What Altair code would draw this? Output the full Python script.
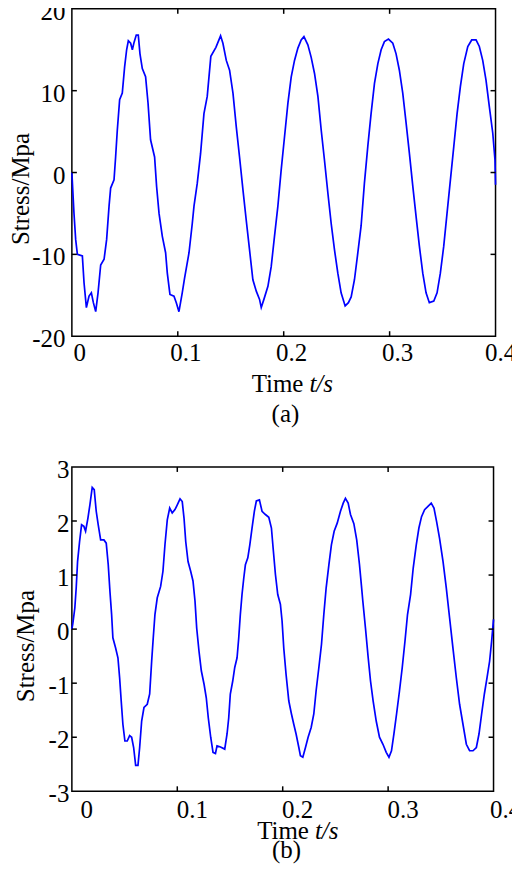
import altair as alt
import pandas as pd

# ---------------- data ----------------
t_a = [0.0, 0.002, 0.0036, 0.0052, 0.0099, 0.0115, 0.0137, 0.0162, 0.0184, 0.0203,
       0.0225, 0.0247, 0.0272, 0.0304, 0.0328, 0.0351, 0.0366, 0.0398, 0.0413, 0.0429,
       0.0451, 0.0476, 0.0498, 0.0517, 0.0533, 0.0555, 0.0571, 0.0587, 0.0608, 0.0627,
       0.0643, 0.0665, 0.0696, 0.0719, 0.0743, 0.0781, 0.08, 0.0823, 0.0854, 0.0885,
       0.0901, 0.0926, 0.0964, 0.0986, 0.1011, 0.1042, 0.1064, 0.1106, 0.1137, 0.1153,
       0.1184, 0.1215, 0.1247, 0.1278, 0.1312, 0.136, 0.1404, 0.1426, 0.1458, 0.1489,
       0.1521, 0.1552, 0.1583, 0.1615, 0.1646, 0.1677, 0.1709, 0.1741, 0.1772, 0.1788,
       0.1813, 0.1851, 0.1882, 0.1913, 0.1945, 0.1976, 0.2008, 0.204, 0.2071, 0.2102,
       0.2134, 0.2165, 0.2191, 0.2228, 0.2259, 0.2291, 0.2323, 0.2354, 0.2385, 0.2417,
       0.2448, 0.2479, 0.2511, 0.2542, 0.258, 0.2611, 0.2637, 0.2668, 0.27, 0.2731,
       0.2762, 0.2794, 0.2825, 0.2857, 0.2889, 0.292, 0.2951, 0.2989, 0.303, 0.3061,
       0.3092, 0.3124, 0.3156, 0.3187, 0.3219, 0.325, 0.3281, 0.3313, 0.3344, 0.3375,
       0.3417, 0.3448, 0.3479, 0.3511, 0.3542, 0.3574, 0.3606, 0.3637, 0.3668, 0.37,
       0.3738, 0.3775, 0.3816, 0.3847, 0.3879, 0.391, 0.3942, 0.3974, 0.3995, 0.4]
s_a = [0.0, -5.0, -8.2, -10.0, -10.2, -13.5, -16.5, -15.1, -14.7, -15.9,
       -17.0, -14.7, -11.3, -10.6, -8.2, -4.1, -1.9, -0.9, 1.9, 5.2,
       8.9, 9.7, 12.9, 15.0, 16.1, 15.8, 15.0, 15.9, 16.8, 16.8,
       14.5, 12.7, 11.7, 8.5, 4.0, 1.9, -1.7, -5.0, -7.8, -9.8,
       -12.3, -14.9, -15.1, -15.9, -17.0, -14.7, -12.9, -9.8, -6.2, -4.1,
       -1.3, 2.3, 7.2, 9.3, 14.2, 15.3, 16.7, 15.8, 13.7, 12.5,
       9.7, 5.6, 1.9, -2.1, -5.8, -9.4, -13.1, -14.5, -15.5, -16.5,
       -15.5, -13.9, -11.5, -7.8, -4.1, 0.3, 4.4, 8.5, 11.7, 13.7,
       15.2, 16.2, 16.6, 15.6, 14.1, 12.1, 9.3, 5.2, 1.5, -2.5,
       -6.2, -9.4, -12.3, -14.7, -16.3, -15.9, -15.2, -13.1, -9.8, -6.5,
       -1.3, 3.2, 7.2, 10.9, 13.3, 15.0, 16.0, 16.3, 15.8, 14.5,
       12.5, 9.7, 6.0, 2.3, -1.7, -5.4, -9.0, -12.3, -14.7, -15.9,
       -15.7, -14.7, -12.3, -9.0, -5.0, -0.9, 3.2, 7.2, 10.5, 13.3,
       15.4, 16.2, 16.2, 15.4, 13.7, 11.3, 8.0, 4.8, 1.5, -1.5]

t_b = [0.0, 0.0009, 0.0028, 0.0041, 0.0054, 0.0073, 0.0092, 0.0114, 0.013, 0.0152,
       0.0171, 0.0193, 0.0212, 0.0231, 0.025, 0.0273, 0.0304, 0.0326, 0.0345, 0.0361,
       0.0377, 0.0389, 0.0415, 0.0437, 0.0453, 0.0468, 0.0484, 0.0503, 0.0525, 0.0548,
       0.0567, 0.0586, 0.0605, 0.0627, 0.0643, 0.0662, 0.0684, 0.0715, 0.0738, 0.0757,
       0.0772, 0.0788, 0.081, 0.0842, 0.0864, 0.0883, 0.0905, 0.0928, 0.0952, 0.0978,
       0.1, 0.1026, 0.1047, 0.1064, 0.108, 0.1102, 0.1127, 0.1149, 0.1168, 0.1184,
       0.1206, 0.1228, 0.1254, 0.1275, 0.1294, 0.1317, 0.1339, 0.1362, 0.1377, 0.141,
       0.145, 0.1472, 0.1488, 0.1503, 0.1526, 0.1545, 0.1567, 0.1583, 0.1598, 0.1614,
       0.1631, 0.1646, 0.1669, 0.1688, 0.1709, 0.1731, 0.175, 0.1779, 0.1804, 0.1836,
       0.1868, 0.1893, 0.1909, 0.1931, 0.1953, 0.1978, 0.1994, 0.201, 0.2032, 0.2058,
       0.2083, 0.2105, 0.2127, 0.2153, 0.2168, 0.2191, 0.2216, 0.2241, 0.227, 0.2295,
       0.2317, 0.2343, 0.2368, 0.239, 0.2412, 0.2438, 0.2462, 0.2488, 0.2517, 0.2548,
       0.2574, 0.2595, 0.2621, 0.2643, 0.2675, 0.2702, 0.2728, 0.2747, 0.276, 0.2785,
       0.2811, 0.2833, 0.2858, 0.2887, 0.2918, 0.2951, 0.2982, 0.3008, 0.3032, 0.3055,
       0.308, 0.3108, 0.3134, 0.316, 0.3184, 0.3213, 0.3238, 0.3267, 0.3292, 0.3317,
       0.3346, 0.3378, 0.3409, 0.3435, 0.346, 0.3488, 0.3521, 0.3552, 0.3583, 0.3615,
       0.3647, 0.3678, 0.371, 0.3742, 0.3773, 0.3805, 0.3837, 0.3862, 0.3887, 0.3913,
       0.3938, 0.3963, 0.3982, 0.4]
s_b = [0.0, 0.1, 0.39, 0.76, 1.25, 1.62, 1.93, 1.90, 1.81, 2.05,
       2.30, 2.62, 2.58, 2.18, 1.93, 1.65, 1.65, 1.59, 1.19, 0.70,
       0.27, -0.16, -0.35, -0.53, -0.90, -1.33, -1.76, -2.07, -2.07, -1.97,
       -2.00, -2.19, -2.52, -2.52, -2.19, -1.70, -1.45, -1.39, -1.20, -0.59,
       -0.16, 0.27, 0.58, 0.79, 1.07, 1.56, 2.02, 2.24, 2.15, 2.21,
       2.30, 2.41, 2.36, 2.05, 1.62, 1.25, 1.07, 0.89, 0.52, 0.02,
       -0.41, -0.77, -1.02, -1.27, -1.64, -2.00, -2.28, -2.30, -2.16, -2.18,
       -2.22, -1.94, -1.64, -1.20, -0.96, -0.71, -0.53, -0.16, 0.27, 0.64,
       0.95, 1.19, 1.32, 1.56, 1.87, 2.18, 2.37, 2.39, 2.18, 2.12,
       2.07, 1.87, 1.50, 1.01, 0.64, 0.46, 0.15, -0.35, -0.84, -1.33,
       -1.57, -1.76, -1.94, -2.19, -2.34, -2.37, -2.19, -2.00, -1.82, -1.57,
       -1.14, -0.71, -0.28, 0.27, 0.76, 1.19, 1.56, 1.81, 1.96, 2.18,
       2.33, 2.42, 2.33, 2.12, 1.95, 1.65, 1.20, 0.80, 0.52, 0.02,
       -0.53, -0.96, -1.33, -1.70, -2.00, -2.13, -2.28, -2.37, -2.25, -1.94,
       -1.57, -1.14, -0.71, -0.22, 0.27, 0.64, 1.13, 1.56, 1.87, 2.08,
       2.21, 2.27, 2.33, 2.24, 1.99, 1.68, 1.25, 0.76, 0.21, -0.35,
       -0.90, -1.39, -1.76, -2.13, -2.25, -2.25, -2.19, -1.94, -1.57, -1.20,
       -0.90, -0.59, -0.22, 0.18]

x_ticks = [0, 0.1, 0.2, 0.3, 0.4]
x_inner = [0.1, 0.2, 0.3]
y_ticks_a = [-20, -10, 0, 10, 20]
y_inner_a = [-10, 0, 10]
y_ticks_b = [-3, -2, -1, 0, 1, 2, 3]
y_inner_b = [-2, -1, 0, 1, 2]

y_title = "Stress/Mpa"
x_title_word = "Time"
x_title_unit = "t/s"
captions = ["(a)", "(b)"]

FONT = "Liberation Serif"
FS = 25
TICK = 5


def text_layer(txt, x, y, align, style="normal"):
    return alt.Chart(pd.DataFrame({"txt": [txt]})).mark_text(
        align=align, baseline="alphabetic", font=FONT, fontSize=FS,
        fontStyle=style, color="black"
    ).encode(x=alt.value(x), y=alt.value(y), text="txt:N")


def panel(t, s, ydom, yticks, yinner, w, h, xlab_off, xlab_off_last, xlab_pad,
          ylab_pad, title_x, title_y, time_x, unit_x, time_base, cap, cap_x,
          cap_base):
    xs = alt.Scale(domain=[0, 0.4], nice=False, zero=False)
    ys = alt.Scale(domain=ydom, nice=False, zero=False)
    xaxis = alt.Axis(
        values=x_ticks, ticks=False, tickSize=0, domain=False, grid=False,
        labelFont=FONT, labelFontSize=FS, labelColor="black",
        labelPadding=xlab_pad, labelBaseline="alphabetic",
        labelOffset={"condition": {"test": "datum.value > 0.35",
                                   "value": xlab_off_last},
                     "value": xlab_off},
        labelFlush=False, labelOverlap=False,
        labelExpr="'' + datum.value")
    yaxis = alt.Axis(
        values=yticks, ticks=False, tickSize=0, domain=False, grid=False,
        labelFont=FONT, labelFontSize=FS, labelColor="black",
        labelPadding=ylab_pad, labelBaseline="middle", labelOffset=2.5,
        labelFlush=False, labelOverlap=False,
        labelExpr="'' + datum.value",
        titleFont=FONT, titleFontSize=FS, titleFontWeight="normal",
        titleColor="black", titleX=title_x, titleY=title_y,
        titleBaseline="alphabetic")
    X = alt.X("t:Q", scale=xs, title=None, axis=xaxis)
    Y = alt.Y("s:Q", scale=ys, title=y_title, axis=yaxis)

    df = pd.DataFrame({"t": t, "s": s})
    line = alt.Chart(df).mark_line(color="#0000ff", strokeWidth=1.7).encode(x=X, y=Y)
    xt = pd.DataFrame({"t": x_inner})
    yt = pd.DataFrame({"s": yinner})
    rule = dict(color="black", strokeWidth=1.5)
    xt_bot = alt.Chart(xt).mark_rule(**rule).encode(
        x=X, y=alt.value(h), y2=alt.value(h - TICK))
    xt_top = alt.Chart(xt).mark_rule(**rule).encode(
        x=X, y=alt.value(0), y2=alt.value(TICK))
    yt_left = alt.Chart(yt).mark_rule(**rule).encode(
        y=Y, x=alt.value(0), x2=alt.value(TICK))
    yt_right = alt.Chart(yt).mark_rule(**rule).encode(
        y=Y, x=alt.value(w - TICK), x2=alt.value(w))
    t1 = text_layer(x_title_word, time_x, time_base, "right")
    t2 = text_layer(x_title_unit, unit_x, time_base, "left", "italic")
    t3 = text_layer(cap, cap_x, cap_base, "center")
    return alt.layer(line, xt_bot, xt_top, yt_left, yt_right, t1, t2, t3).properties(
        width=w, height=h)


top = panel(t_a, s_a, [-20, 20], y_ticks_a, y_inner_a, 424.5, 328,
            xlab_off=7.5, xlab_off_last=4.5, xlab_pad=24, ylab_pad=7,
            title_x=-43.5, title_y=180,
            time_x=232, unit_x=238, time_base=384,
            cap=captions[0], cap_x=214, cap_base=414)
bottom = panel(t_b, s_b, [-3, 3], y_ticks_b, y_inner_b, 422.5, 325,
               xlab_off=14.5, xlab_off_last=11.5, xlab_pad=26.5, ylab_pad=3,
               title_x=-38, title_y=179,
               time_x=237.5, unit_x=243.5, time_base=373,
               cap=captions[1], cap_x=215, cap_base=392)

chart = alt.vconcat(top, bottom, spacing=28).properties(
    padding={"left": -1, "top": -11, "right": -10, "bottom": 0}
).configure_view(stroke="black", strokeWidth=1.5)

chart.save("out.html", embed_options={"renderer": "svg", "actions": False})
